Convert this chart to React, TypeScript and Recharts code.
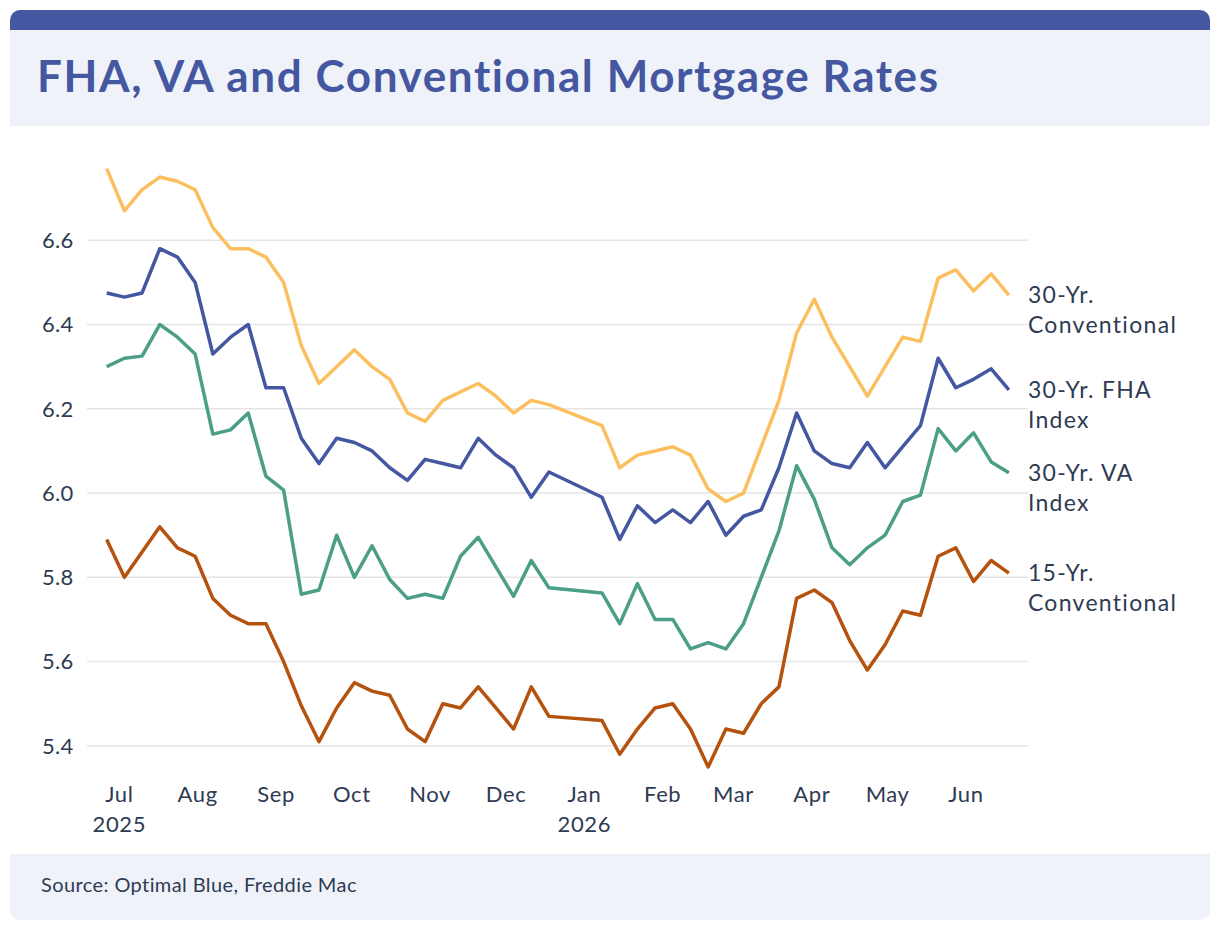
import React from "react";
import {
  LineChart,
  Line,
  XAxis,
  YAxis,
  CartesianGrid,
} from "recharts";

// weekly survey dates (Thursdays); holiday weeks have no reading
const weeks = [
  "2025-06-26", "2025-07-03", "2025-07-10", "2025-07-17", "2025-07-24", "2025-07-31",
  "2025-08-07", "2025-08-14", "2025-08-21", "2025-08-28", "2025-09-04", "2025-09-11",
  "2025-09-18", "2025-09-25", "2025-10-02", "2025-10-09", "2025-10-16", "2025-10-23",
  "2025-10-30", "2025-11-06", "2025-11-13", "2025-11-20", "2025-11-27", "2025-12-04",
  "2025-12-11", "2025-12-18", "2025-12-25", "2026-01-01", "2026-01-08", "2026-01-15",
  "2026-01-22", "2026-01-29", "2026-02-05", "2026-02-12", "2026-02-19", "2026-02-26",
  "2026-03-05", "2026-03-12", "2026-03-19", "2026-03-26", "2026-04-02", "2026-04-09",
  "2026-04-16", "2026-04-23", "2026-04-30", "2026-05-07", "2026-05-14", "2026-05-21",
  "2026-05-28", "2026-06-04", "2026-06-11", "2026-06-18",
];

const conv30 = [
  6.77, 6.67, 6.72, 6.75, 6.74, 6.72, 6.63, 6.58, 6.58, 6.56,
  6.5, 6.35, 6.26, 6.3, 6.34, 6.3, 6.27, 6.19, 6.17, 6.22,
  6.24, 6.26, 6.23, 6.19, 6.22, 6.21, null, null, 6.16, 6.06,
  6.09, 6.1, 6.11, 6.09, 6.01, 5.98, 6.0, 6.11, 6.22, 6.38,
  6.46, 6.37, 6.3, 6.23, 6.3, 6.37, 6.36, 6.51, 6.53, 6.48, 6.52, 6.47,
];

const fha30 = [
  6.475, 6.465, 6.475, 6.58, 6.56, 6.5, 6.33, 6.37, 6.4, 6.25,
  6.25, 6.13, 6.07, 6.13, 6.12, 6.1, 6.06, 6.03, 6.08, 6.07,
  6.06, 6.13, 6.09, 6.06, 5.99, 6.05, null, null, 5.99, 5.89,
  5.97, 5.93, 5.96, 5.93, 5.98, 5.9, 5.945, 5.96, 6.06, 6.19,
  6.1, 6.07, 6.06, 6.12, 6.06, 6.11, 6.16, 6.32, 6.25, 6.27, 6.295, 6.245,
];

const va30 = [
  6.3, 6.32, 6.325, 6.4, 6.37, 6.33, 6.14, 6.15, 6.19, 6.04,
  6.007, 5.76, 5.77, 5.9, 5.8, 5.875, 5.795, 5.75, 5.76, 5.75,
  5.85, 5.895, 5.825, 5.755, 5.84, 5.775, null, null, 5.763, 5.69,
  5.785, 5.7, 5.7, 5.63, 5.645, 5.63, 5.69, 5.8, 5.91, 6.065,
  5.985, 5.87, 5.83, 5.87, 5.9, 5.98, 5.995, 6.153, 6.1, 6.143, 6.074, 6.048,
];

const conv15 = [
  5.89, 5.8, 5.86, 5.92, 5.87, 5.85, 5.75, 5.71, 5.69, 5.69,
  5.6, 5.495, 5.41, 5.49, 5.55, 5.53, 5.52, 5.44, 5.41, 5.5,
  5.49, 5.54, 5.49, 5.44, 5.54, 5.47, null, null, 5.46, 5.38,
  5.44, 5.49, 5.5, 5.44, 5.35, 5.44, 5.43, 5.5, 5.54, 5.75,
  5.77, 5.74, 5.65, 5.58, 5.64, 5.72, 5.71, 5.85, 5.87, 5.79, 5.84, 5.81,
];

const monthStarts = [
  "2025-07-01", "2025-08-01", "2025-09-01", "2025-10-01", "2025-11-01", "2025-12-01",
  "2026-01-01", "2026-02-01", "2026-03-01", "2026-04-01", "2026-05-01", "2026-06-01",
];
const monthLabels = ["Jul", "Aug", "Sep", "Oct", "Nov", "Dec", "Jan", "Feb", "Mar", "Apr", "May", "Jun"];
const yearLabels = ["2025", "", "", "", "", "", "2026", "", "", "", "", ""];

const yTicks = [5.4, 5.6, 5.8, 6.0, 6.2, 6.4, 6.6];

const FONT = "Lato, 'Noto Sans', sans-serif";
const TEXT = "#2e3b52";
const NAVY = "#4457a0";
const PANEL = "#eff3f9";

const toTime = (d: string) => new Date(d).getTime();

const data = weeks.map((w, i) => ({
  t: toTime(w),
  conv30: conv30[i],
  fha30: fha30[i],
  va30: va30[i],
  conv15: conv15[i],
}));

const monthTicks = monthStarts.map(toTime);

function MonthTick(props: any) {
  const { x, y, payload } = props;
  const idx = monthTicks.indexOf(payload.value);
  const style = { fill: TEXT, fontSize: 22, fontFamily: FONT, letterSpacing: 0.6 };
  return (
    <g>
      <text x={x} y={y + 14} textAnchor="middle" {...style}>
        {monthLabels[idx]}
      </text>
      {yearLabels[idx] && (
        <text x={x} y={y + 44} textAnchor="middle" {...style}>
          {yearLabels[idx]}
        </text>
      )}
    </g>
  );
}

const endLabel = (lines: string[]) => (props: any) => {
  const { x, y, index } = props;
  if (index !== weeks.length - 1) return <g key={`l-${index}`} />;
  return (
    <text
      key={`l-${index}`}
      x={x + 19}
      y={y}
      fill={TEXT}
      fontSize={23}
      letterSpacing={1.3}
      fontFamily={FONT}
    >
      <tspan x={x + 19} dy="0.36em">{lines[0]}</tspan>
      <tspan x={x + 19} dy={30}>{lines[1]}</tspan>
    </text>
  );
};

export default function App() {
  return (
    <div
      style={{
        position: "absolute",
        left: 0,
        top: 0,
        width: 1220,
        height: 930,
        background: "#ffffff",
        fontFamily: FONT,
      }}
    >
      <div
        style={{
          position: "absolute",
          left: 10,
          top: 10,
          width: 1200,
          height: 20,
          background: NAVY,
          borderRadius: "10px 10px 0 0",
        }}
      />
      <div style={{ position: "absolute", left: 10, top: 30, width: 1200, height: 96, background: PANEL }} />
      <div
        style={{
          position: "absolute",
          left: 10,
          top: 854,
          width: 1200,
          height: 66,
          background: PANEL,
          borderRadius: "0 0 10px 10px",
        }}
      />

      <div style={{ position: "absolute", left: 0, top: 126 }}>
        <LineChart
          width={1220}
          height={728}
          data={data}
          margin={{ top: 30, right: 192, left: 0, bottom: 16 }}
        >
          <CartesianGrid
            vertical={false}
            horizontalValues={yTicks}
            stroke="#e5e5e5"
            strokeWidth={1.5}
          />
          <XAxis
            dataKey="t"
            type="number"
            scale="time"
            domain={[data[0].t, data[data.length - 1].t]}
            ticks={monthTicks}
            tick={<MonthTick />}
            axisLine={false}
            tickLine={false}
            tickSize={0}
            tickMargin={0}
            height={50}
            padding={{ left: 19.7, right: 19.1 }}
            interval={0}
          />
          <YAxis
            domain={[5.3, 6.8]}
            ticks={yTicks}
            width={87}
            axisLine={false}
            tickLine={false}
            tickSize={0}
            tickMargin={13.5}
            tickFormatter={(v: number) => v.toFixed(1)}
            tick={{ fill: TEXT, fontSize: 22, fontFamily: FONT, letterSpacing: 0.3 }}
          />
          <Line
            type="linear"
            dataKey="conv30"
            stroke="#fcbf5f"
            strokeWidth={3.5}
            strokeLinejoin="round"
            dot={false}
            connectNulls
            isAnimationActive={false}
            label={endLabel(["30-Yr.", "Conventional"])}
          />
          <Line
            type="linear"
            dataKey="fha30"
            stroke={NAVY}
            strokeWidth={3.5}
            strokeLinejoin="round"
            dot={false}
            connectNulls
            isAnimationActive={false}
            label={endLabel(["30-Yr. FHA", "Index"])}
          />
          <Line
            type="linear"
            dataKey="va30"
            stroke="#4b9e87"
            strokeWidth={3.5}
            strokeLinejoin="round"
            dot={false}
            connectNulls
            isAnimationActive={false}
            label={endLabel(["30-Yr. VA", "Index"])}
          />
          <Line
            type="linear"
            dataKey="conv15"
            stroke="#b4520e"
            strokeWidth={3.5}
            strokeLinejoin="round"
            dot={false}
            connectNulls
            isAnimationActive={false}
            label={endLabel(["15-Yr.", "Conventional"])}
          />
        </LineChart>
      </div>

      <svg
        width={1220}
        height={930}
        style={{ position: "absolute", left: 0, top: 0, pointerEvents: "none" }}
      >
        <text
          x={37}
          y={92}
          fill={NAVY}
          fontSize={44}
          fontWeight={700}
          letterSpacing={1.6}
          fontFamily={FONT}
        >
          FHA, VA and Conventional Mortgage Rates
        </text>
        <text x={41} y={892} fill={TEXT} fontSize={20} letterSpacing={0.4} fontFamily={FONT}>
          Source: Optimal Blue, Freddie Mac
        </text>
      </svg>
    </div>
  );
}
